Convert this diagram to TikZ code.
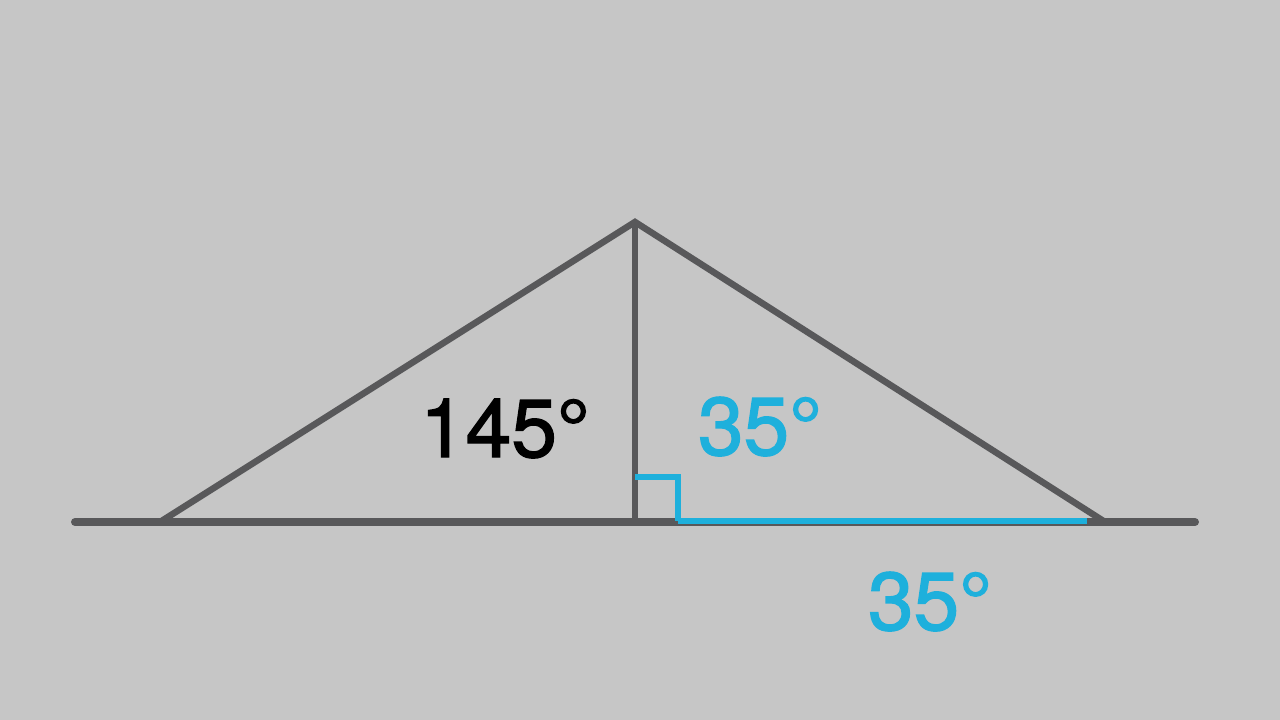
\documentclass[tikz,border=0pt]{standalone}
\usepackage{fontspec}
\setmainfont{TeX Gyre Heros}
\newfontfamily\lblfont{TeX Gyre Heros}[UprightFeatures={FakeBold=1.6}]
\definecolor{bg}{HTML}{C6C6C6}
\definecolor{lgray}{HTML}{58585A}
\definecolor{lblue}{HTML}{1EB0DC}
\begin{document}
\begin{tikzpicture}[x=1pt,y=-1pt,
  gline/.style={draw=lgray,line width=6.5pt,line join=miter},
  bline/.style={draw=lblue,line width=6pt},
  lbl/.style={font=\lblfont\fontsize{82}{82}\selectfont,inner sep=0pt,anchor=base}]
\fill[bg] (0,0) rectangle (1280,720);
\useasboundingbox (0,0) rectangle (1280,720);
\coordinate (L) at (75,522);
\coordinate (R) at (1195,522);
\coordinate (A) at (160,522);
\coordinate (B) at (1105,522);
\coordinate (T) at (635,222);
\coordinate (F) at (635,522);
\coordinate (m1) at (635,477);
\coordinate (m2) at (678,477);
\coordinate (m3) at (678,521);
\coordinate (bend) at (1087,521);
\draw[gline,line width=8pt,line cap=round] (L) -- (R);
\draw[gline] (A) -- (T) -- (B);
\draw[gline] (T) -- (F);
\draw[bline] (m3) -- (bend);
\draw[bline] (m1) -- (m2) -- (m3);
\node[lbl,text=black] (a145) at (505,457) {145°};
\node[lbl,text=lblue] (a35a) at (760,455) {35°};
\node[lbl,text=lblue] (a35b) at (930,630) {35°};
\end{tikzpicture}
\end{document}
